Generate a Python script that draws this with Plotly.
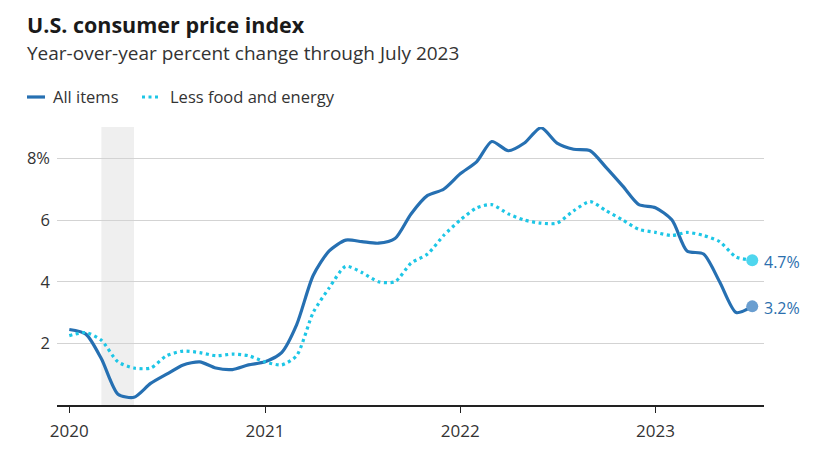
import plotly.graph_objects as go

# ---- data ----
months = [
    "2020-01-01", "2020-02-01", "2020-03-01", "2020-04-01", "2020-05-01", "2020-06-01",
    "2020-07-01", "2020-08-01", "2020-09-01", "2020-10-01", "2020-11-01", "2020-12-01",
    "2021-01-01", "2021-02-01", "2021-03-01", "2021-04-01", "2021-05-01", "2021-06-01",
    "2021-07-01", "2021-08-01", "2021-09-01", "2021-10-01", "2021-11-01", "2021-12-01",
    "2022-01-01", "2022-02-01", "2022-03-01", "2022-04-01", "2022-05-01", "2022-06-01",
    "2022-07-01", "2022-08-01", "2022-09-01", "2022-10-01", "2022-11-01", "2022-12-01",
    "2023-01-01", "2023-02-01", "2023-03-01", "2023-04-01", "2023-05-01", "2023-06-01",
    "2023-07-01",
]
all_items = [
    2.45, 2.3, 1.5, 0.35, 0.25, 0.7, 1.0, 1.3, 1.4, 1.2, 1.15, 1.3,
    1.4, 1.7, 2.6, 4.2, 5.0, 5.35, 5.3, 5.25, 5.4, 6.2, 6.8, 7.0,
    7.5, 7.9, 8.55, 8.25, 8.5, 9.0, 8.5, 8.3, 8.25, 7.7, 7.1, 6.5,
    6.4, 6.0, 5.0, 4.9, 4.0, 3.0, 3.2,
]
core = [
    2.25, 2.35, 2.1, 1.4, 1.2, 1.2, 1.6, 1.75, 1.7, 1.6, 1.65, 1.6,
    1.4, 1.3, 1.6, 3.0, 3.8, 4.5, 4.3, 4.0, 4.0, 4.6, 4.9, 5.5,
    6.0, 6.4, 6.5, 6.2, 6.0, 5.9, 5.9, 6.3, 6.6, 6.3, 6.0, 5.7,
    5.6, 5.5, 5.6, 5.5, 5.3, 4.8, 4.7,
]
series_names = ["All items", "Less food and energy"]
recession_start = "2020-03-01"
recession_end = "2020-05-01"
x_tick_vals = ["2020-01-01", "2021-01-01", "2022-01-01", "2023-01-01"]
x_tick_text = ["2020", "2021", "2022", "2023"]
y_tick_vals = [2, 4, 6, 8]
y_tick_text = ["2", "4", "6", "8%"]

# ---- style ----
BLUE = "#2670b2"
CYAN = "#1dc6e6"
LABEL = "#2b6fae"
FONT = "Open Sans"
W, H = 835, 468
L, R, T, B = 57, 71, 127, 63
PW, PH = W - L - R, H - T - B


def px_x(px):
    return (px - L) / PW


def px_y(py):
    return (H - B - py) / PH


fig = go.Figure()

fig.add_trace(go.Scatter(
    x=months, y=all_items, name=series_names[0], mode="lines", showlegend=False,
    line=dict(color=BLUE, width=3.2, shape="spline", smoothing=0.7),
))
fig.add_trace(go.Scatter(
    x=months, y=core, name=series_names[1], mode="lines", showlegend=False,
    line=dict(color=CYAN, width=3.2, shape="spline", smoothing=0.7, dash="3px,3.5px"),
))

# end markers
fig.add_trace(go.Scatter(
    x=[months[-1]], y=[core[-1]], mode="markers", showlegend=False, cliponaxis=False,
    marker=dict(size=12, color="#4fd6ee"), hoverinfo="skip",
))
fig.add_trace(go.Scatter(
    x=[months[-1]], y=[all_items[-1]], mode="markers", showlegend=False, cliponaxis=False,
    marker=dict(size=12, color="#6a9ed0"), hoverinfo="skip",
))

for val in (core[-1], all_items[-1]):
    fig.add_annotation(
        x=months[-1], y=val, text=f"{val:.1f}%", showarrow=False,
        xanchor="left", yanchor="middle", xshift=10, yshift=-2,
        font=dict(family=FONT, size=16, color=LABEL),
    )

fig.add_shape(
    type="rect", xref="x", yref="paper", x0=recession_start, x1=recession_end,
    y0=0, y1=1, fillcolor="#efefef", line=dict(width=0), layer="below",
)

# title / subtitle
fig.add_annotation(
    text="<b>U.S. consumer price index</b>", xref="paper", yref="paper",
    x=px_x(25), y=px_y(24), xanchor="left", yanchor="middle", showarrow=False,
    font=dict(family=FONT, size=21.5, color="#1a1a1a"),
)
fig.add_annotation(
    text="Year-over-year percent change through July 2023", xref="paper", yref="paper",
    x=px_x(25), y=px_y(53), xanchor="left", yanchor="middle", showarrow=False,
    font=dict(family=FONT, size=19, color="#333333"),
)

# legend (custom)
LEG_Y = 97
fig.add_shape(type="line", xref="paper", yref="paper",
              x0=px_x(27), x1=px_x(45), y0=px_y(LEG_Y), y1=px_y(LEG_Y),
              line=dict(color=BLUE, width=3.2))
fig.add_shape(type="line", xref="paper", yref="paper",
              x0=px_x(142), x1=px_x(158), y0=px_y(LEG_Y), y1=px_y(LEG_Y),
              line=dict(color=CYAN, width=3.2, dash="3px,3.5px"))
fig.add_annotation(
    text=series_names[0], xref="paper", yref="paper", x=px_x(51), y=px_y(LEG_Y - 1),
    xanchor="left", yanchor="middle", showarrow=False,
    font=dict(family=FONT, size=16.5, color="#333333"),
)
fig.add_annotation(
    text=series_names[1], xref="paper", yref="paper", x=px_x(168), y=px_y(LEG_Y - 1),
    xanchor="left", yanchor="middle", showarrow=False,
    font=dict(family=FONT, size=16.5, color="#333333"),
)

fig.update_layout(
    width=W, height=H,
    margin=dict(l=L, r=R, t=T, b=B),
    paper_bgcolor="white", plot_bgcolor="white",
    font=dict(family=FONT, color="#333333"),
    xaxis=dict(
        type="date", range=["2019-12-09", "2023-07-23"],
        tickvals=x_tick_vals, ticktext=x_tick_text,
        showgrid=False, zeroline=False,
        showline=True, linecolor="#222222", linewidth=1.5,
        ticks="outside", ticklen=6, tickcolor="#222222", tickwidth=1,
        ticklabelstandoff=4,
        tickfont=dict(family=FONT, size=17, color="#333333"),
    ),
    yaxis=dict(
        range=[0, 9.02], tickvals=y_tick_vals, ticktext=y_tick_text,
        showgrid=True, gridcolor="#d3d3d3", gridwidth=1,
        zeroline=False, showline=False, ticks="",
        ticklabelstandoff=6,
        tickfont=dict(family=FONT, size=16.5, color="#333333"),
    ),
    showlegend=False,
    hovermode=False,
)

fig.write_html("out.html")
